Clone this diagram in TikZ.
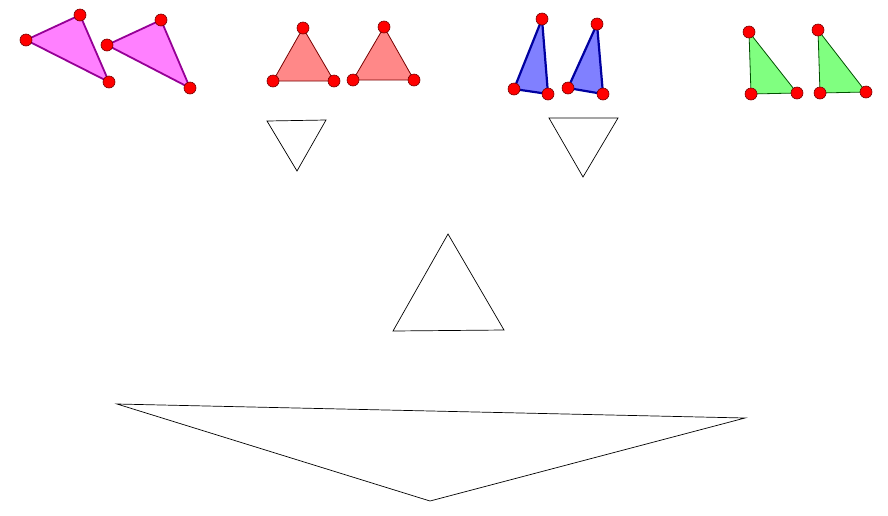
\documentclass[tikz,border=0pt]{standalone}
\begin{document}
\begin{tikzpicture}[x=1pt,y=-1pt,
  dot/.style={circle,fill=red,draw={rgb,255:red,120;green,0;blue,0},line width=0.6pt,inner sep=0pt,minimum size=12pt},
  magtri/.style={fill={rgb,255:red,255;green,128;blue,255},draw={rgb,255:red,150;green,0;blue,150},line width=1.8pt,line join=round},
  redtri/.style={fill={rgb,255:red,255;green,136;blue,136},draw={rgb,255:red,120;green,0;blue,0},line width=0.8pt,line join=round},
  bluetri/.style={fill={rgb,255:red,128;green,128;blue,255},draw={rgb,255:red,0;green,0;blue,160},line width=2.2pt,line join=round},
  greentri/.style={fill={rgb,255:red,128;green,255;blue,128},draw={rgb,255:red,0;green,80;blue,0},line width=0.8pt,line join=round},
  wtri/.style={draw=black,line width=0.7pt,fill=white}]
\useasboundingbox (0,0) rectangle (888,515);
\fill[white] (0,0) rectangle (888,515);
% magenta
\coordinate (m1a) at (26,40); \coordinate (m1b) at (80,15); \coordinate (m1c) at (109,82);
\coordinate (m2a) at (107,45); \coordinate (m2b) at (161,20); \coordinate (m2c) at (190,88);
\draw[magtri] (m1a)--(m1b)--(m1c)--cycle;
\draw[magtri] (m2a)--(m2b)--(m2c)--cycle;
% red
\coordinate (r1a) at (303,28); \coordinate (r1b) at (273,81); \coordinate (r1c) at (334,81);
\coordinate (r2a) at (384,27); \coordinate (r2b) at (353,80); \coordinate (r2c) at (414,80);
\draw[redtri] (r1a)--(r1b)--(r1c)--cycle;
\draw[redtri] (r2a)--(r2b)--(r2c)--cycle;
% blue
\coordinate (b1a) at (542,19); \coordinate (b1b) at (514,89); \coordinate (b1c) at (548,94);
\coordinate (b2a) at (597,24); \coordinate (b2b) at (568,88); \coordinate (b2c) at (603,94);
\draw[bluetri] (b1a)--(b1b)--(b1c)--cycle;
\draw[bluetri] (b2a)--(b2b)--(b2c)--cycle;
% green
\coordinate (g1a) at (749,32); \coordinate (g1b) at (751,94); \coordinate (g1c) at (797,93);
\coordinate (g2a) at (818,30); \coordinate (g2b) at (820,93); \coordinate (g2c) at (866,92);
\draw[greentri] (g1a)--(g1b)--(g1c)--cycle;
\draw[greentri] (g2a)--(g2b)--(g2c)--cycle;
% dots
\foreach \p in {m1a,m1b,m1c,m2a,m2b,m2c,r1a,r1b,r1c,r2a,r2b,r2c,b1a,b1b,b1c,b2a,b2b,b2c,g1a,g1b,g1c,g2a,g2b,g2c}
  \node[dot] (d\p) at (\p) {};
% white triangles
\coordinate (w1a) at (267,121); \coordinate (w1b) at (326,120); \coordinate (w1c) at (297,171);
\draw[wtri] (w1a)--(w1b)--(w1c)--cycle;
\coordinate (w2a) at (549,118); \coordinate (w2b) at (618,118); \coordinate (w2c) at (583,177);
\draw[wtri] (w2a)--(w2b)--(w2c)--cycle;
\coordinate (w3a) at (448,234); \coordinate (w3b) at (393,331); \coordinate (w3c) at (504,330);
\draw[wtri] (w3a)--(w3b)--(w3c)--cycle;
\coordinate (w4a) at (117,404); \coordinate (w4b) at (745,418); \coordinate (w4c) at (430,501);
\draw[wtri] (w4a)--(w4b)--(w4c)--cycle;
\end{tikzpicture}
\end{document}
